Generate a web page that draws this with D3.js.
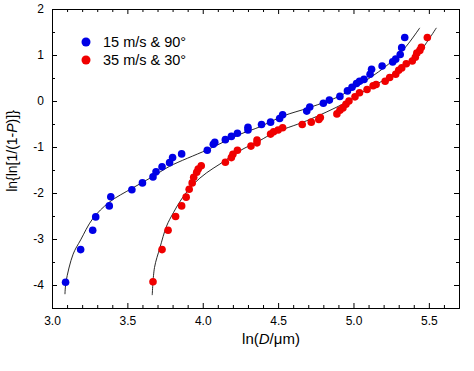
<!DOCTYPE html>
<html lang="en">
<head>
    <meta charset="UTF-8">
    <title>Weibull plot</title>
    <style>
        body { margin: 0; background: #fff; }
        svg { display: block; font-family: "Liberation Sans", Arial, sans-serif; }
        .axis path, .axis line { stroke: #000; stroke-width: 1; }
        .axis text { font-size: 12px; fill: #000; }
    </style>
</head>
<body>
    <div id="chart"></div>

    <script src="https://d3js.org/d3.v7.min.js"></script>
    <script>
        // data points: [ln(D/um), ln{ln[1/(1-P)]}]
        const blueData = [
            [3.09,-3.94],[3.19,-3.23],[3.27,-2.81],[3.29,-2.52],[3.38,-2.28],[3.39,-2.08],
            [3.53,-1.93],[3.60,-1.78],[3.67,-1.65],[3.69,-1.54],[3.73,-1.43],[3.78,-1.34],
            [3.80,-1.23],[3.86,-1.15],[4.03,-1.07],[4.07,-0.94],[4.08,-0.90],[4.15,-0.84],
            [4.19,-0.77],[4.23,-0.70],[4.30,-0.63],[4.30,-0.57],[4.39,-0.51],[4.45,-0.46],
            [4.51,-0.38],[4.53,-0.30],[4.69,-0.22],[4.71,-0.13],[4.80,-0.05],[4.84,0.02],
            [4.91,0.10],[4.96,0.22],[4.99,0.30],[5.02,0.38],[5.04,0.43],[5.07,0.47],
            [5.11,0.58],[5.12,0.69],[5.19,0.76],[5.26,0.85],[5.28,0.91],[5.31,1.01],
            [5.32,1.16],[5.34,1.38]
        ];
        const redData = [
            [3.67,-3.93],[3.73,-3.23],[3.77,-2.81],[3.82,-2.51],[3.86,-2.28],[3.89,-2.09],
            [3.91,-1.92],[3.93,-1.78],[3.94,-1.66],[3.96,-1.55],[3.97,-1.48],[3.99,-1.41],
            [4.15,-1.33],[4.19,-1.23],[4.20,-1.16],[4.23,-1.07],[4.32,-0.98],[4.36,-0.91],
            [4.36,-0.85],[4.45,-0.72],[4.47,-0.67],[4.50,-0.63],[4.53,-0.58],[4.66,-0.51],
            [4.72,-0.46],[4.77,-0.40],[4.78,-0.36],[4.89,-0.28],[4.91,-0.20],[4.93,-0.15],
            [4.95,-0.07],[4.97,0.00],[5.01,0.09],[5.04,0.18],[5.09,0.25],[5.13,0.33],
            [5.15,0.36],[5.21,0.43],[5.24,0.51],[5.28,0.58],[5.30,0.67],[5.32,0.72],
            [5.35,0.81],[5.39,0.87],[5.41,0.95],[5.42,1.04],[5.44,1.10],[5.45,1.17],
            [5.49,1.38]
        ];
        // fitted curves
        const blueFit = [
            [3.086,-4.20],[3.093,-3.93],[3.14,-3.33],[3.19,-3.02],[3.27,-2.56],[3.38,-2.20],
            [3.53,-1.90],[3.67,-1.64],[3.78,-1.42],[4.03,-1.06],[4.25,-0.72],[4.38,-0.56],
            [4.53,-0.33],[4.71,-0.14],[4.91,0.11],[5.13,0.55],[5.26,0.88],[5.35,1.19],[5.44,1.59]
        ];
        const redFit = [
            [3.665,-4.22],[3.68,-3.62],[3.716,-3.19],[3.76,-2.72],[3.805,-2.43],[3.86,-2.13],
            [3.937,-1.81],[4.026,-1.56],[4.114,-1.37],[4.247,-1.08],[4.379,-0.86],[4.467,-0.70],
            [4.689,-0.43],[4.95,-0.03],[5.09,0.25],[5.22,0.49],[5.33,0.76],[5.42,0.98],
            [5.485,1.27],[5.55,1.59]
        ];
        const seriesNames = ["15 m/s & 90\u00b0", "35 m/s & 30\u00b0"];
        const seriesColors = ["#0000e6", "#f00000"];

        const xMajor = [3.0, 3.5, 4.0, 4.5, 5.0, 5.5];
        const xTickLabels = ["3.0", "3.5", "4.0", "4.5", "5.0", "5.5"];
        const yMajor = [-4, -3, -2, -1, 0, 1, 2];
        const yTickLabels = ["-4", "-3", "-2", "-1", "0", "1", "2"];

        const W = 474, H = 371;
        const margin = { top: 9, right: 15, bottom: 63, left: 52 };

        const svg = d3.select("#chart").append("svg")
            .attr("width", W)
            .attr("height", H);

        const x = d3.scaleLinear().domain([3.0, 5.7]).range([margin.left, W - margin.right]);
        const y = d3.scaleLinear().domain([-4.5, 2]).range([H - margin.bottom, margin.top]);

        const xMinor = d3.range(30, 58).map(d => d / 10).filter(d => !xMajor.includes(d));
        const yMinor = d3.range(-9, 5).map(d => d / 2).filter(d => !Number.isInteger(d));

        const x0 = x.range()[0], x1 = x.range()[1];
        const y0 = y.range()[0], y1 = y.range()[1];

        // axes, ticks pointing inward
        function addAxis(axis, tx, ty) {
            svg.append("g").attr("class", "axis")
                .attr("transform", `translate(${tx},${ty})`)
                .call(axis.tickSizeOuter(0));
        }
        addAxis(d3.axisBottom(x).tickValues(xMajor).tickSize(-5).tickPadding(8)
            .tickFormat((d, i) => xTickLabels[i]), 0, y0);
        addAxis(d3.axisBottom(x).tickValues(xMinor).tickSize(-3).tickFormat(""), 0, y0);
        addAxis(d3.axisTop(x).tickValues(xMajor).tickSize(-5).tickFormat(""), 0, y1);
        addAxis(d3.axisTop(x).tickValues(xMinor).tickSize(-3).tickFormat(""), 0, y1);
        addAxis(d3.axisLeft(y).tickValues(yMajor).tickSize(-5).tickPadding(8)
            .tickFormat((d, i) => yTickLabels[i]), x0, 0);
        addAxis(d3.axisLeft(y).tickValues(yMinor).tickSize(-3).tickFormat(""), x0, 0);
        addAxis(d3.axisRight(y).tickValues(yMajor).tickSize(-5).tickFormat(""), x1, 0);
        addAxis(d3.axisRight(y).tickValues(yMinor).tickSize(-3).tickFormat(""), x1, 0);

        // fit lines
        const line = d3.line()
            .x(d => x(d[0]))
            .y(d => y(d[1]))
            .curve(d3.curveCatmullRom.alpha(0.5));
        [blueFit, redFit].forEach(fit => {
            svg.append("path")
                .datum(fit)
                .attr("d", line)
                .attr("fill", "none")
                .attr("stroke", "#111")
                .attr("stroke-width", 0.9);
        });

        // points
        [blueData, redData].forEach((data, i) => {
            svg.append("g").selectAll("circle")
                .data(data)
                .enter()
                .append("circle")
                .attr("cx", d => x(d[0]))
                .attr("cy", d => y(d[1]))
                .attr("r", 3.8)
                .attr("fill", seriesColors[i]);
        });

        // legend
        const legend = svg.append("g").attr("transform", "translate(86,42)");
        seriesNames.forEach((name, i) => {
            const g = legend.append("g").attr("transform", `translate(0,${i * 18})`);
            g.append("circle").attr("r", 4.5).attr("fill", seriesColors[i]);
            g.append("text")
                .attr("x", 17)
                .attr("dy", "0.36em")
                .style("font-size", "14.5px")
                .text(name);
        });

        // axis titles
        const xt = svg.append("text")
            .attr("x", 271)
            .attr("y", 344)
            .attr("text-anchor", "middle")
            .style("font-size", "15px");
        xt.append("tspan").text("ln(");
        xt.append("tspan").style("font-style", "italic").text("D");
        xt.append("tspan").text("/\u03bcm)");

        const yt = svg.append("text")
            .attr("transform", "translate(17,151) rotate(-90)")
            .attr("text-anchor", "middle")
            .style("font-size", "14px");
        yt.append("tspan").text("ln{ln[1/(1-");
        yt.append("tspan").style("font-style", "italic").text("P");
        yt.append("tspan").text(")]}");
    </script>
</body>
</html>
